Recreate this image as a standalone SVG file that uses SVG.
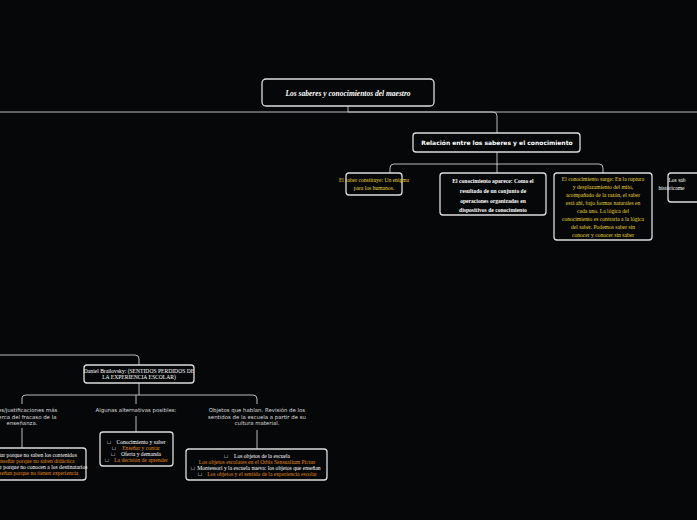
<svg xmlns="http://www.w3.org/2000/svg" width="697" height="520" viewBox="0 0 697 520">
<style>
.bg{fill:#060709}
.box{fill:#060709;stroke:#ddd;stroke-width:1.3}
.ln{fill:none;stroke:#bbb;stroke-width:1}
.s{font-family:"Liberation Serif",serif;font-size:5.6px;text-anchor:middle}
.w{fill:#fff}.y{fill:#e8d23a}.o{fill:#e08a1a}
.sans{font-family:"DejaVu Sans",sans-serif;font-size:5.4px;text-anchor:middle;fill:#ddd}
</style>
<rect class="bg" width="697" height="520"/>
<g id="connectors">
<path class="ln" d="M0 112H697" stroke="#999" stroke-width="1.6"/>
<path class="ln" d="M348 106V112M348 112H493Q497 112 497 116V133"/>
<path class="ln" d="M497 152V165M390 173V168Q390 164 394 164H599Q603 164 603 168V173M497 164V173"/>
<path class="ln" d="M0 355H135Q139 355 139 359V365" stroke="#777"/>
<path class="ln" d="M139 383V395M22 404V398Q22 395 26 395H253Q257 395 257 399V404M136 395V404"/>
<path class="ln" d="M22 428V448M136 416V432M257 430V449"/>
</g>
<g id="root"><rect class="box" x="262" y="79" width="172" height="27" rx="4"/>
<text x="348" y="95.5" font-family="Liberation Serif,serif" font-style="italic" font-weight="bold" font-size="7.5" fill="#fff" text-anchor="middle">Los saberes y conocimientos del maestro</text></g>
<g id="relacion"><rect class="box" x="413" y="133" width="167" height="19" rx="3"/>
<text x="497" y="145" font-family="DejaVu Sans,sans-serif" font-weight="bold" font-size="6" fill="#fff" text-anchor="middle">Relación entre los saberes y el conocimiento</text></g>
<g id="n1"><rect class="box" x="346" y="173" width="56" height="22" rx="3"/>
<text class="s y" font-size="5.2"><tspan x="374" y="181.5">El saber constituye: Un enigma</tspan><tspan x="374" y="189.5">para los humanos.</tspan></text></g>
<g id="n2"><rect class="box" x="440" y="173" width="106" height="42" rx="3"/>
<text class="s w" font-weight="bold"><tspan x="493" y="183">El conocimiento aparece: Como el</tspan><tspan x="493" y="193">resultado de un conjunto de</tspan><tspan x="493" y="203">operaciones organizadas en</tspan><tspan x="493" y="212">dispositivos de conocimiento</tspan></text></g>
<g id="n3"><rect class="box" x="554" y="173" width="98" height="67" rx="3"/>
<text class="s y"><tspan x="603" y="181">El conocimiento surge: En la ruptura</tspan><tspan x="603" y="189">y desplazamiento del mito,</tspan><tspan x="603" y="197">acompañado de la razón, el saber</tspan><tspan x="603" y="205">está ahí, bajo formas naturales en</tspan><tspan x="603" y="213">cada uno. La lógica del</tspan><tspan x="603" y="221">conocimiento es contraria a la lógica</tspan><tspan x="603" y="229">del saber. Podemos saber sin</tspan><tspan x="603" y="237">conocer y conocer sin saber</tspan></text></g>
<g id="n4"><rect class="box" x="668" y="173" width="40" height="29" rx="3"/>
<text class="s w" text-anchor="start" font-size="5.2"><tspan x="677" y="181.5">Los sab</tspan><tspan x="671.5" y="189.5">históricame</tspan></text></g>
<g id="daniel"><rect class="box" x="84" y="365" width="110" height="18" rx="3"/>
<text class="s w" font-size="4"><tspan x="139" y="372.5">Daniel Brailovsky: (SENTIDOS PERDIDOS DE</tspan><tspan x="139" y="379">LA EXPERIENCIA ESCOLAR)</tspan></text></g>
<g id="lbl1"><text class="sans"><tspan x="22" y="412">ciones/justificaciones más</tspan><tspan x="22" y="418.5">s acerca del fracaso de la</tspan><tspan x="22" y="425">enseñanza.</tspan></text></g>
<g id="lbl2"><text class="sans" x="136" y="412">Algunas alternativas posibles:</text></g>
<g id="lbl3"><text class="sans"><tspan x="257" y="412">Objetos que hablan. Revisión de los</tspan><tspan x="257" y="418.5">sentidos de la escuela a partir de su</tspan><tspan x="257" y="425">cultura material.</tspan></text></g>
<g id="b1"><rect class="box" x="-20" y="448" width="106" height="32" rx="3"/>
<text class="s" font-size="5.2"><tspan class="w" x="32" y="457">Enseñar porque no saben los contenidos</tspan><tspan class="o" x="32" y="463">No enseñar porque no saben didáctica</tspan><tspan class="w" x="32" y="469">No enseñar porque no conocen a los destinatarios</tspan><tspan class="o" x="32" y="475">No enseñan porque no tienen experiencia</tspan></text></g>
<g id="b2"><rect class="box" x="100" y="432" width="73" height="34" rx="3"/>
<text class="s" font-size="5.2"><tspan class="w" x="141" y="444">Conocimiento y saber</tspan><tspan class="o" x="141" y="450">Enseñar y contar</tspan><tspan class="w" x="141" y="456">Oferta y demanda</tspan><tspan class="o" x="141" y="462">La decisión de aprender</tspan></text>
<text class="s w" font-size="4.5"><tspan x="109" y="444">□</tspan><tspan x="114" y="450">□</tspan><tspan x="113" y="456">□</tspan><tspan x="107" y="462">□</tspan></text></g>
<g id="b3"><rect class="box" x="186" y="449" width="141" height="31" rx="3"/>
<text class="s" font-size="5.2"><tspan class="w" x="262" y="458">Los objetos de la escuela</tspan><tspan class="o" x="257" y="464">Los objetos escolares en el Orbis Sensualium Pictus</tspan><tspan class="w" x="259" y="470">Montessori y la escuela nueva: los objetos que enseñan</tspan><tspan class="o" x="262" y="476">Los objetos y el sentido de la experiencia escolar</tspan></text>
<text class="s w" font-size="4.5"><tspan x="226" y="458">□</tspan><tspan x="193" y="470">□</tspan><tspan x="200" y="476">□</tspan></text></g>
</svg>
